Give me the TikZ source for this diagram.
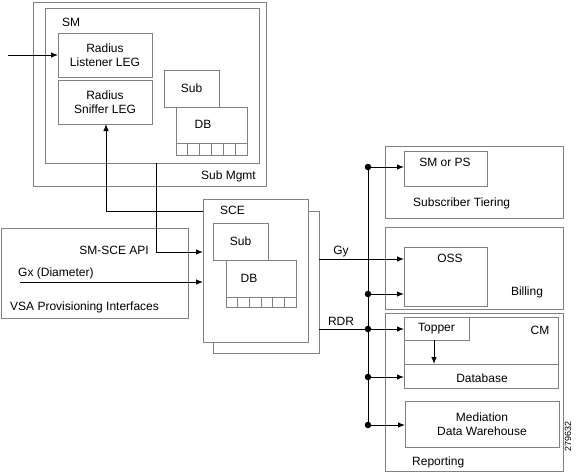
\documentclass[tikz,border=0pt]{standalone}
\usepackage{fontspec}
\setmainfont{Liberation Sans}
\usetikzlibrary{calc,arrows.meta}
\tikzset{
 box/.style={draw=black!50, line width=1pt, fill=white, anchor=north west, inner sep=0pt, outer sep=0pt},
 cell/.style={draw=black!50, line width=0.8pt},
 wire/.style={draw=black, line width=0.9pt},
 arr/.style={wire, -{Latex[length=7pt,width=5.5pt]}},
 lbl/.style={inner sep=0pt, font=\fontsize{12}{14}\selectfont, align=center},
 dot/.style={circle, fill=black, inner sep=0pt, minimum size=6.5pt},
}
\newcommand\bx[5]{\node[box, minimum width={(#4-#2)*1pt}, minimum height={(#5-#3)*1pt}] (#1) at (#2,#3) {};}
\newcommand\cellrow[2]{%
 \draw[cell] ([yshift=#2]#1.south west) -- ([yshift=#2]#1.south east);
 \foreach \i in {1,...,5}{\draw[cell] ($(#1.south west)!\i/6!(#1.south east)$) -- ++(0,#2);}}
\begin{document}
\begin{tikzpicture}[x=1pt,y=-1pt]
\useasboundingbox (0,0) rectangle (577,472);
% Sub Mgmt
\bx{submgmt}{33}{2}{266}{186}
\bx{sm}{45}{8}{259}{163}
\bx{listener}{58}{33}{152}{77}
\bx{sniffer}{58}{80}{152}{124}
\bx{smsub}{164}{70}{219}{107}
\bx{smdb}{176}{107}{247}{155}
\cellrow{smdb}{12pt}
\node[lbl, anchor=west] (smlbl) at (62,22) {SM};
\node[lbl] (listenerlbl) at (listener.center) {Radius\\Listener LEG};
\node[lbl] (snifferlbl) at (sniffer.center) {Radius\\Sniffer LEG};
\node[lbl] (smsublbl) at (smsub.center) {Sub};
\node[lbl] (smdblbl) at (203,124) {DB};
\node[lbl, anchor=east] (submgmtlbl) at (256,176) {Sub Mgmt};
% VSA
\bx{vsa}{1}{228}{188}{318}
\node[lbl, anchor=east] (apilbl) at (149,250) {SM-SCE API};
\node[lbl, anchor=west] (gxlbl) at (18,273) {Gx (Diameter)};
\node[lbl, anchor=west] (vsalbl) at (10,307) {VSA Provisioning Interfaces};
% SCE
\bx{sceb}{213}{211}{319}{353}
\bx{scef}{203}{199}{308}{342}
\bx{scesub}{213}{223}{268}{260}
\bx{scedb}{226}{260}{296}{307}
\cellrow{scedb}{10pt}
\node[lbl, anchor=west] (scelbl) at (220,210) {SCE};
\node[lbl] (scesublbl) at (scesub.center) {Sub};
\node[lbl] (scedblbl) at (249,278) {DB};
% Right side
\bx{tier}{385}{146}{563}{218}
\bx{smps}{404}{151}{487}{186}
\node[lbl] (smpslbl) at (445,162) {SM or PS};
\node[lbl, anchor=west] (tierlbl) at (413,203) {Subscriber Tiering};
\bx{billing}{385}{227}{563}{309}
\bx{oss}{404}{247}{487}{306}
\node[lbl] (osslbl) at (450,258) {OSS};
\node[lbl] (billinglbl) at (527,292) {Billing};
\bx{reporting}{385}{313}{563}{471}
\bx{cm}{404}{317}{558}{388}
\bx{topper}{404}{317}{469}{340}
\coordinate (dbl) at (404,364);
\coordinate (dbr) at (558,364);
\draw[cell, line width=1pt] (dbl) -- (dbr);
\node[lbl] (topperlbl) at (topper.center) {Topper};
\node[lbl] (cmlbl) at (540,330) {CM};
\node[lbl] (databaselbl) at (482,378) {Database};
\bx{med}{405}{401}{559}{447}
\node[lbl] (medlbl) at (med.center) {Mediation\\Data Warehouse};
\node[lbl, anchor=west] (replbl) at (412,462) {Reporting};
\node[inner sep=0pt, rotate=90, font=\fontsize{9}{10}\selectfont] (figid) at (568,436) {279632};
% Connectors left
\coordinate (in1) at (8,55);
\draw[arr] (in1) -- (in1 -| listener.west);
\coordinate (login) at (106,211);
\draw[arr] (login -| scef.west) -- (login) -- (login |- sniffer.south);
\coordinate (apitop) at (156,163);
\coordinate (apicorner) at (156,252);
\draw[arr] (apitop) -- (apicorner) -- (apicorner -| scef.west);
\coordinate (gxs) at (20,282);
\draw[arr] (gxs) -- (gxs -| scef.west);
% Gy / RDR
\coordinate (gy) at (319,259);
\draw[arr] (gy) -- (gy -| oss.west);
\node[lbl] (gylbl) at (341,252) {Gy};
\node[dot] (d3) at (368,329) {};
\coordinate (rdr) at (319,329);
\draw[arr] (rdr) -- (rdr -| topper.west);
\node[lbl] (rdrlbl) at (341,321) {RDR};
% bus
\node[dot] (d1) at (368,167) {};
\node[dot] (d2) at (368,294) {};
\node[dot] (d4) at (368,377) {};
\node[dot] (d5) at (368,425) {};
\draw[wire] (d1.center) -- (d5.center);
\draw[arr] (d1) -- (d1 -| smps.west);
\draw[arr] (d2) -- (d2 -| oss.west);
\draw[arr] (d4) -- (d4 -| cm.west);
\draw[arr] (d5) -- (d5 -| med.west);
\draw[arr] (topper.south -| 434,0) -- (dbl -| 434,0);
\end{tikzpicture}
\end{document}
